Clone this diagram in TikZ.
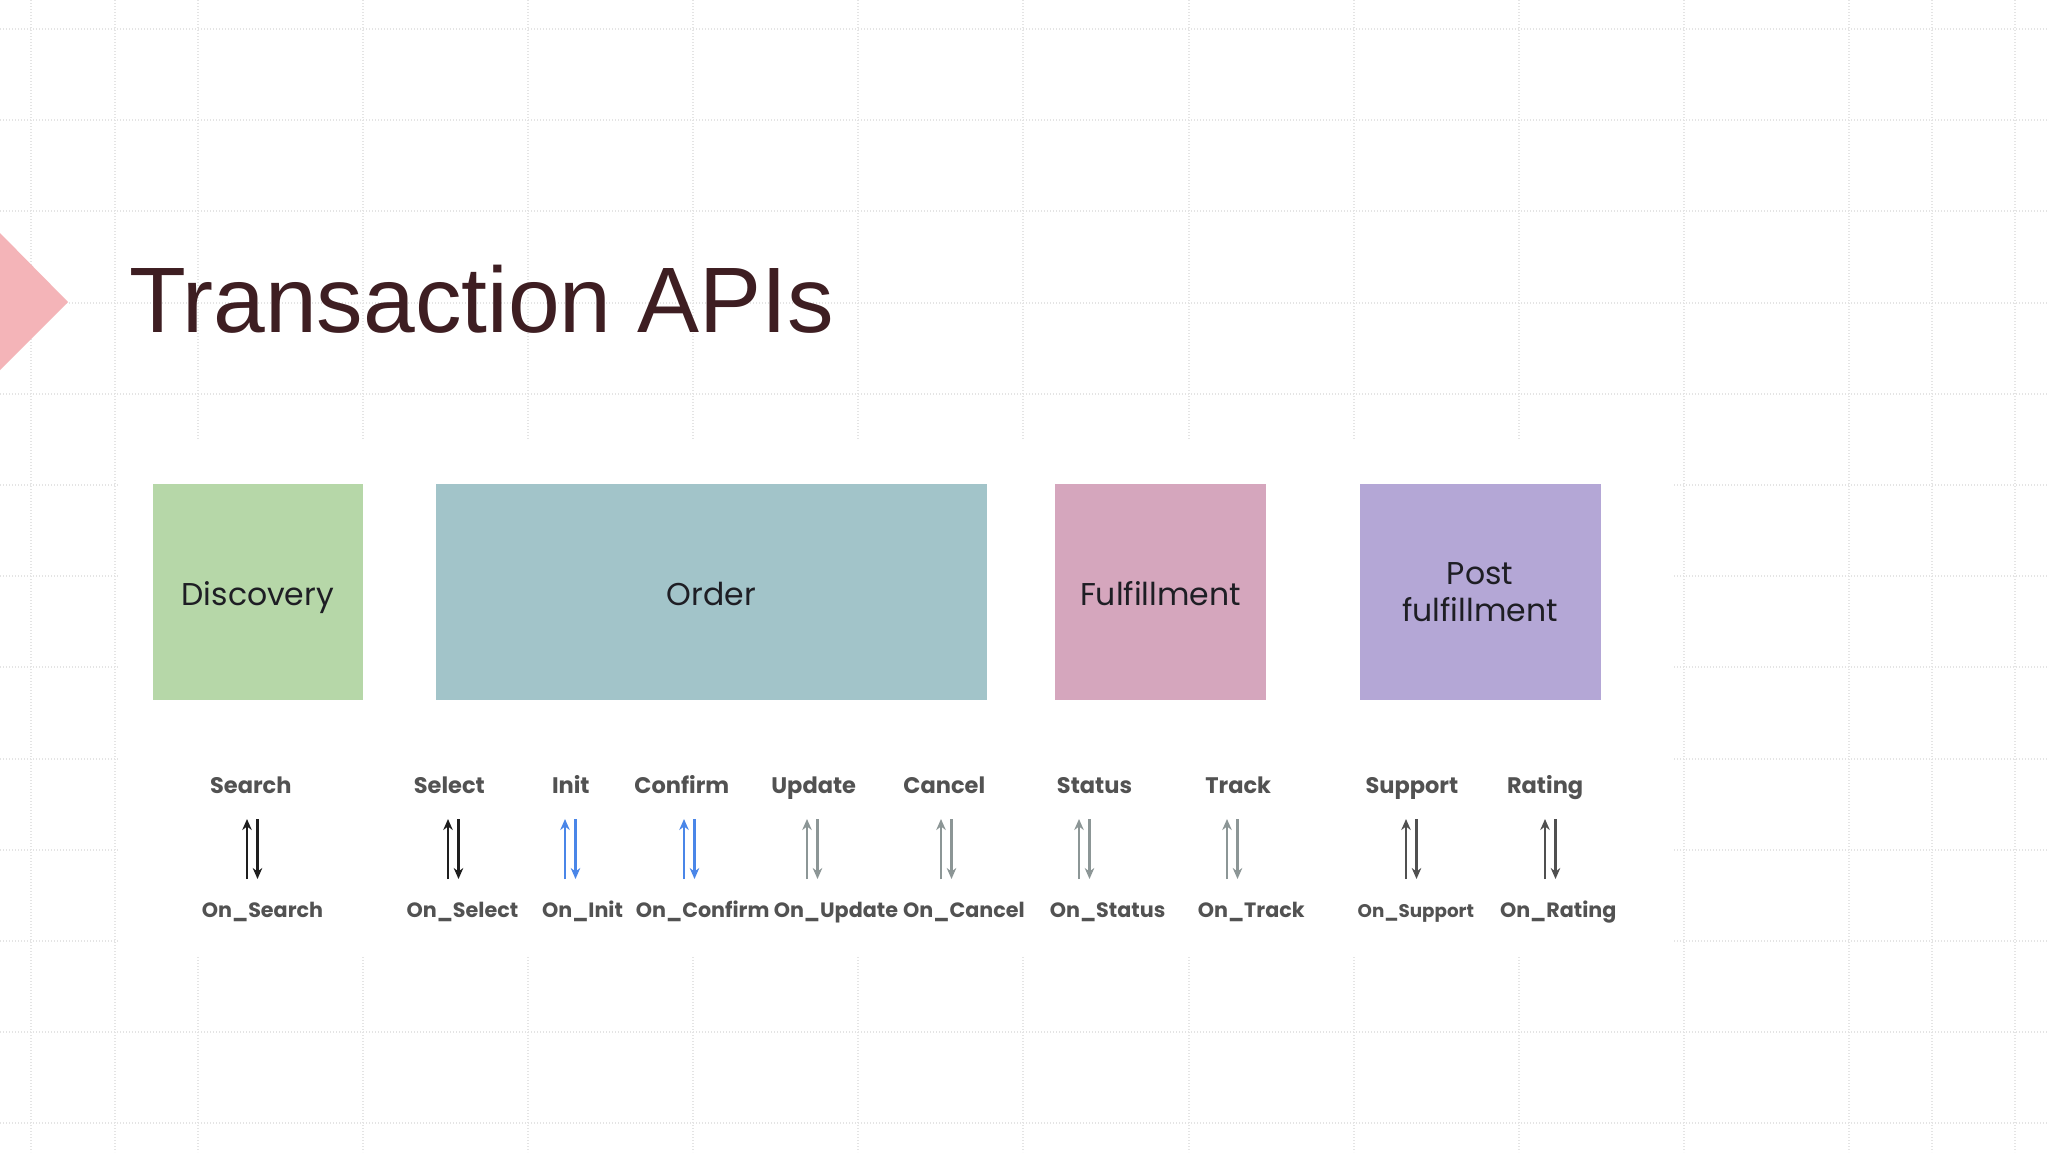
\documentclass[tikz,border=0pt]{standalone}
\usepackage{fontspec}
\setmainfont{Liberation Sans}
\newfontfamily\poppins{Poppins}
\usetikzlibrary{arrows.meta}
\definecolor{rosa}{RGB}{244,180,184}
\definecolor{vino}{RGB}{62,30,34}
\definecolor{verde}{RGB}{182,215,168}
\definecolor{celeste}{RGB}{162,196,201}
\definecolor{rosado}{RGB}{213,166,189}
\definecolor{lila}{RGB}{180,167,214}
\definecolor{textocaja}{RGB}{30,30,36}
\definecolor{negro}{RGB}{30,30,30}
\definecolor{azul}{RGB}{74,134,232}
\definecolor{gris}{RGB}{140,150,150}
\definecolor{grisosc}{RGB}{80,80,80}
\definecolor{etiq}{RGB}{82,82,82}
\definecolor{rejilla}{RGB}{228,228,228}

\begin{document}
\begin{tikzpicture}[x=1pt,y=-1pt,
    linea/.style={draw=rejilla, line width=1.4pt, dash pattern=on 1.2pt off 1.8pt},
    fase/.style={inner sep=0pt, minimum height=216pt, text=textocaja,
      font=\poppins\fontsize{31.5}{37}\selectfont},
    unalinea/.style={text height=26pt, text depth=0pt},
    api/.style={inner sep=0pt, anchor=base, text=etiq,
      font=\poppins\bfseries\fontsize{22.5}{27}\selectfont},
    resp/.style={api, font=\poppins\bfseries\fontsize{20.7}{25}\selectfont},
    ida/.style={line width=2.2pt, -{Stealth[length=11pt,width=9.5pt]}}]
    \useasboundingbox (0,0) rectangle (2048,1152);
    \fill[white] (0,0) rectangle (2048,1152);

    %Fondo cuadriculado
    \foreach \gx in {31,115,198,363,528,693,858,1023,1189,1354,1519,1684,1849,1932,2015}
        \draw[linea] (\gx,0) -- (\gx,1152);
    \foreach \gy in {29,120,211,303,394,485,576,667,759,850,941,1032,1123}
        \draw[linea] (0,\gy) -- (2048,\gy);
    %La imagen pegada tapa la rejilla
    \fill[white] (118,440) rectangle (1672,955);

    %Triangulo y titulo
    \fill[rosa] (0,233) -- (68,302) -- (0,370) -- cycle;
    \node[anchor=base west, inner sep=0pt, text=vino,
        font=\fontsize{93}{110}\selectfont] (titulo) at (129,332) {Transaction APIs};

    %Las cuatro fases
    \node[fase, unalinea, fill=verde, minimum width=210.5pt] (disc) at (257.75,592) {Discovery};
    \node[fase, unalinea, fill=celeste, minimum width=550.5pt] (orden) at (711.25,592) {Order};
    \node[fase, unalinea, fill=rosado, minimum width=211pt] (cumpl) at (1160.5,592) {Fulfillment};
    \node[fase, fill=lila, minimum width=241pt, align=center] (post) at (1480,592) {Post\\fulfillment};

    %Llamadas y respuestas
    \foreach \n/\ux/\col/\tx/\arriba/\bx/\abajo in {
        1/247/negro/250.8/Search/262.5/On\_Search,
        2/448/negro/449.3/Select/462.4/On\_Select,
        3/565/azul/570.8/Init/582.5/On\_Init,
        4/684/azul/681.8/Confirm/702.7/On\_Confirm,
        5/807/gris/813.7/Update/835.9/On\_Update,
        6/941/gris/944.3/Cancel/963.9/On\_Cancel,
        7/1079/gris/1094.5/Status/1107.6/On\_Status,
        8/1227/gris/1238.2/Track/1251.2/On\_Track,
        9/1406/grisosc/1411.9/Support/1415.8/{\fontsize{18.3}{22}\selectfont On\_Support},
        10/1545/grisosc/1545.1/Rating/1558.2/On\_Rating}
    {
        \node[api] (ll\n) at (\tx,793) {\arriba};
        \node[resp] (re\n) at (\bx,917) {\abajo};
        \coordinate (ab\n) at (\ux,879);
        \coordinate (ar\n) at (\ux,819);
        \draw[ida,\col] (ab\n) -- (ar\n);
        \draw[ida,\col] ([xshift=10.5pt]ar\n) -- ([xshift=10.5pt]ab\n);
    }
\end{tikzpicture}
\end{document}
